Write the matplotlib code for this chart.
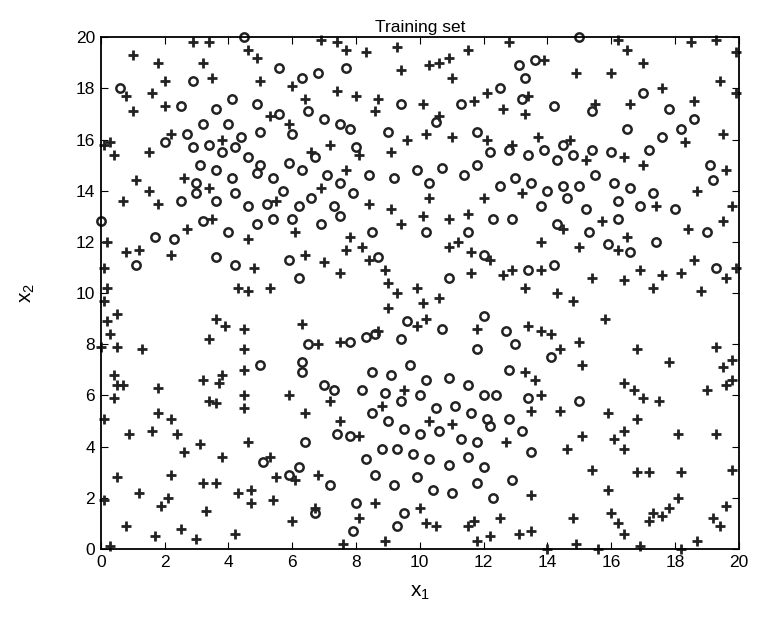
import matplotlib
matplotlib.use("Agg")
import matplotlib.pyplot as plt
plt.rcParams['font.family'] = ['Liberation Sans', 'DejaVu Sans']
plt.rcParams['mathtext.fontset'] = 'custom'
plt.rcParams['mathtext.rm'] = 'Liberation Sans'
plt.rcParams['mathtext.it'] = 'Liberation Sans'

circles_x = [4.5,0.6,2.9,5.6,6.8,7.7,6.3,2.5,3.6,4.1,4.9,5.6,6.5,7.0,7.5,3.2,4.0,2.7,5.0,6.0,7.8,8.0,8.4,9.0,9.4,9.2,2.0,2.9,3.4,3.8,4.2,4.6,3.1,3.6,3.0,4.1,4.9,5.4,5.9,6.3,6.7,7.1,7.5,7.9,2.5,3.0,3.6,4.2,4.6,5.2,5.7,6.2,6.6,7.3,4.9,3.2,4.0,5.4,6.0,2.3,1.7,1.1,3.6,4.2,5.9,6.2,0.0,7.5,8.5,8.7,6.9,5.0,4.4,
             15.0,13.6,12.5,13.1,13.3,11.3,13.2,10.5,11.8,14.2,15.4,17.0,17.8,18.2,18.6,17.6,17.2,16.5,16.0,15.4,14.8,14.3,13.9,13.4,12.8,12.2,11.8,11.4,10.7,9.9,10.3,12.5,13.0,13.5,14.0,14.5,15.0,15.5,16.1,16.6,17.3,16.2,15.2,14.6,13.8,12.9,12.3,11.5,14.3,15.3,15.9,16.6,17.4,19.1,19.2,19.0,18.0,14.2,13.4,10.2,19.3,14.5,12.0,16.9,16.2,
             7.8,8.3,8.6,9.4,9.6,10.7,10.9,12.0,13.0,12.7,11.8,6.5,6.3,5.0,7.0,7.3,6.3,8.5,9.1,9.7,10.2,10.9,11.5,12.0,12.4,13.4,14.1,12.8,8.2,8.9,9.4,10.0,10.5,11.1,11.6,12.1,12.8,13.2,8.5,9.0,9.5,10.0,10.6,11.3,11.8,12.2,7.4,7.8,8.3,8.8,9.3,9.8,10.3,10.9,11.5,12.0,6.2,5.1,5.9,6.4,8.6,9.2,9.9,10.4,11.0,12.3,12.9,7.2,8.0,9.5,9.3,6.7,7.9,15.0,13.5,11.8]
circles_y = [20,18,18.3,18.8,18.6,18.8,18.4,17.3,17.2,17.6,17.4,17.0,17.1,16.8,16.6,16.6,16.6,16.2,16.3,16.2,16.4,15.7,14.6,16.3,17.4,14.5,15.9,15.7,15.8,15.5,15.7,15.3,15.0,14.8,14.3,14.5,14.7,14.5,15.1,14.8,15.3,14.6,14.3,13.9,13.6,13.9,13.6,13.9,13.4,13.5,14.0,13.4,13.7,13.4,12.7,12.8,12.4,12.9,12.9,12.1,12.2,11.1,11.4,11.1,11.3,10.6,12.8,13.0,12.4,11.4,12.7,15.0,16.1,
             20,19.1,18.0,18.9,18.4,17.4,17.6,16.7,16.3,17.3,17.1,17.8,17.2,16.4,16.8,16.1,15.6,16.4,15.5,15.6,15.4,15.2,15.6,15.4,15.6,15.5,15.0,14.6,14.9,14.8,14.3,14.2,14.5,14.3,14.0,14.2,14.2,14.6,14.3,14.1,13.9,13.6,13.3,13.7,13.4,12.9,12.9,12.4,12.7,12.4,11.9,11.6,12.0,15.0,14.4,12.4,13.3,11.1,10.9,12.4,11.0,15.8,11.5,13.4,12.9,
             8.1,8.3,8.4,8.2,8.9,8.6,10.6,9.1,8.0,8.5,7.8,8.0,7.3,7.2,6.4,6.2,6.9,6.9,6.8,7.2,6.6,6.7,6.4,6.0,6.0,5.9,7.5,7.0,6.2,6.1,5.8,6.0,5.5,5.6,5.3,5.1,5.1,4.6,5.3,5.0,4.7,4.5,4.6,4.3,4.2,4.8,4.5,4.4,3.5,3.9,3.9,3.7,3.5,3.3,3.6,3.2,3.2,3.4,2.9,4.2,2.9,2.5,2.8,2.3,2.2,2.0,2.7,2.5,1.8,1.4,0.9,1.4,0.7,5.8,3.8,2.6]

plus_pts = [(1.0,19.3),(2.9,19.8),(3.4,19.8),(4.6,19.5),(4.9,19.2),(6.9,19.9),(7.4,19.8),(7.7,19.5),(9.3,19.6),(10.6,19.0),(10.9,19.2),(11.0,18.4),(11.5,19.5),(12.8,19.8),(13.9,19.1),(16.2,19.9),(16.5,19.5),(17.0,19.0),(18.5,19.8),(19.3,19.9),(19.9,19.4),(8.3,19.4),(3.2,19.0),(1.8,19.0),
(2.0,18.3),(3.5,18.4),(5.0,18.3),(6.0,18.1),(7.4,17.9),(8.0,17.7),(8.7,17.6),(9.4,18.7),(10.3,18.9),(0.8,17.7),(1.0,17.1),(2.0,17.3),(1.6,17.8),(5.3,16.9),(6.4,17.6),(8.6,17.1),(10.1,17.4),(10.2,16.2),(10.6,16.9),(11.7,17.5),(12.1,17.8),(12.6,17.2),(13.3,17.0),(13.4,17.7),(15.5,17.4),(16.0,18.6),(17.6,18.0),(19.4,18.3),(19.9,17.8),(18.6,17.5),(14.9,18.6),(14.7,16.0),(16.6,17.4),
(0.1,15.8),(0.3,15.9),(1.5,15.5),(2.2,16.2),(3.8,16.0),(5.9,16.6),(6.6,15.5),(7.2,15.8),(8.1,15.4),(9.1,15.5),(9.6,16.0),(0.4,15.4),(1.1,14.4),(11.0,16.1),(12.1,16.0),(12.9,15.8),(13.7,16.1),(17.0,15.0),(19.5,16.2),(18.3,15.9),(15.2,15.2),(16.4,15.3),
(0.7,13.6),(1.5,14.0),(1.8,13.5),(2.6,14.5),(3.4,14.1),(5.5,13.6),(6.9,14.1),(7.7,14.8),(8.4,13.5),(9.1,13.3),(9.4,12.7),(10.3,13.7),(10.1,13.0),(10.9,12.9),(11.5,13.1),(11.2,12.0),(12.0,13.7),(13.2,13.9),(13.8,12.0),(14.5,12.5),(15.0,11.8),(15.7,12.8),(16.5,12.2),(17.4,13.4),(18.4,12.5),(19.5,12.8),(19.8,13.4),(18.7,14.0),(19.6,14.8),(0.2,12.0),(0.8,11.6),(2.7,12.5),(3.5,12.9),(4.6,12.1),(6.1,12.4),(7.8,12.2),(8.2,11.8),(8.4,11.3),
(0.1,11.0),(0.2,10.2),(0.5,9.2),(1.2,11.7),(2.2,11.5),(4.8,11.0),(4.3,10.2),(4.6,10.1),(5.3,10.2),(6.4,11.5),(7.0,11.2),(7.5,10.8),(7.7,11.7),(8.9,10.9),(9.0,10.4),(9.3,10.0),(9.9,10.2),(10.1,9.6),(10.6,9.8),(11.6,10.8),(12.2,11.3),(12.6,10.7),(12.9,10.9),(13.3,10.2),(13.8,10.9),(14.3,10.0),(14.8,9.7),(16.4,10.5),(17.6,10.7),(18.2,10.8),(18.6,11.3),(18.8,10.1),(19.6,10.6),(19.9,11.0),(17.3,10.2),(16.9,10.9),(11.6,11.6),(10.9,11.8),(15.4,10.6),(16.2,11.7),
(0.1,9.7),(0.2,8.9),(0.3,8.4),(0.5,7.9),(0.0,7.9),(1.3,7.8),(4.5,8.6),(4.5,7.8),(4.5,7.0),(3.6,9.0),(3.9,8.7),(3.4,8.2),(6.3,8.8),(6.8,8.0),(7.5,8.1),(8.7,8.5),(9.0,9.4),(9.9,8.7),(10.2,9.0),(11.8,8.6),(13.4,8.7),(13.8,8.5),(15.0,8.1),(15.8,9.0),(14.1,8.4),(14.4,7.8),(15.1,7.2),(16.8,7.8),(16.7,6.2),(19.3,7.9),(19.5,7.1),(19.8,7.4),(13.6,6.6),(13.3,6.9),(17.8,7.3),
(0.4,6.8),(0.5,6.4),(0.7,6.4),(0.4,5.9),(0.1,5.1),(0.9,4.5),(1.8,6.3),(1.8,5.3),(2.2,5.1),(3.2,6.6),(3.7,6.5),(3.8,6.8),(4.5,6.0),(3.4,5.8),(3.6,5.7),(2.4,4.5),(2.6,3.8),(3.1,4.1),(4.6,4.2),(4.5,5.5),(5.9,6.0),(6.4,5.3),(7.2,5.8),(7.5,5.0),(8.1,4.4),(8.8,5.6),(9.5,6.2),(10.3,5.0),(11.0,4.9),(13.8,6.0),(13.5,5.4),(14.4,5.4),(15.9,5.3),(16.4,6.5),(16.8,5.1),(17.0,5.9),(17.5,5.8),(19.0,6.2),(19.6,6.4),(19.8,6.6),(15.1,4.4),(16.1,4.3),(16.4,4.6),(16.4,3.9),(19.3,4.5),(18.1,4.5),(19.8,3.1),(14.6,3.9),(12.7,4.2),(17.2,3.0),(15.4,3.1),(16.8,3.0),(18.2,3.0),
(1.6,4.6),(0.5,2.8),(0.1,1.9),(0.3,0.1),(0.8,0.9),(1.9,1.7),(1.2,2.2),(2.1,2.0),(2.2,2.9),(3.2,2.6),(3.6,2.6),(3.3,1.5),(3.8,3.6),(4.3,2.2),(4.7,1.8),(4.7,2.3),(5.3,3.6),(5.5,2.8),(5.4,1.9),(6.0,1.1),(6.8,2.9),(6.7,1.6),(6.1,2.7),(4.2,0.6),(3.0,0.4),(2.5,0.8),(1.7,0.5),(7.6,0.2),(8.1,1.2),(8.6,1.8),(8.9,0.3),(10.0,1.6),(10.2,1.0),(10.5,0.9),(11.5,0.9),(11.7,1.1),(11.8,0.3),(12.5,1.2),(13.1,0.6),(13.5,0.7),(13.5,2.1),(14.0,0.0),(14.8,1.2),(14.9,0.2),(15.6,0.0),(16.0,1.4),(16.2,1.0),(16.4,0.6),(16.9,0.1),(17.2,1.1),(17.3,1.4),(17.6,1.3),(17.8,1.6),(18.1,2.0),(18.2,0.0),(18.7,0.3),(19.2,1.2),(19.4,0.9),(19.6,1.7),(12.2,0.5),(15.9,2.3)]
plus_x = [p[0] for p in plus_pts]
plus_y = [p[1] for p in plus_pts]

ticks = [0, 2, 4, 6, 8, 10, 12, 14, 16, 18, 20]

fig = plt.figure(figsize=(7.81, 6.19), dpi=100)
ax = fig.add_axes([0.129, 0.113, 0.817, 0.827])
c = "#222222"
ax.plot(plus_x, plus_y, linestyle="none", marker="+", markersize=6.5, mew=2.0, color=c, clip_on=False)
ax.plot(circles_x, circles_y, linestyle="none", marker="o", markersize=6, mew=1.8,
        mfc="none", mec=c, clip_on=False)
ax.set_xlim(0, 20)
ax.set_ylim(0, 20)
ax.set_xticks(ticks)
ax.set_yticks(ticks)
for s in ax.spines.values():
    s.set_linewidth(1.3)
ax.tick_params(direction="in", top=True, right=True, labelsize=12.5, length=5, pad=4)
ax.set_title("Training set", fontsize=12.5, pad=4)
ax.set_xlabel("x$_1$", fontsize=15, labelpad=10)
ax.set_ylabel("x$_2$", fontsize=15, labelpad=28)
fig.savefig("out.png", dpi=100)
